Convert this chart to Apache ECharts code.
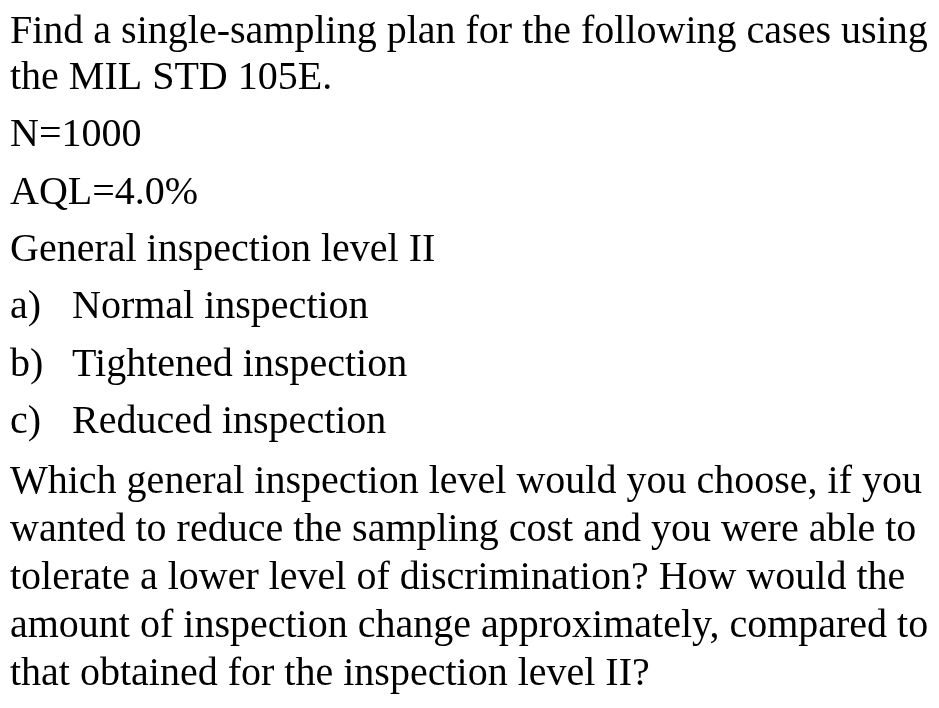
<!DOCTYPE html>
<html><head><meta charset="utf-8">
<script src="https://cdn.jsdelivr.net/npm/echarts@6/dist/echarts.min.js"></script>
<style>html,body{margin:0;padding:0;background:#fff}#c{width:939px;height:708px}</style>
</head><body><div id="c"></div>
<script>
const lines = [
  "Find a single-sampling plan for the following cases using",
  "the MIL STD 105E.",
  "N=1000",
  "AQL=4.0%",
  "General inspection level II",
  "", "", "",
  "Which general inspection level would you choose, if you",
  "wanted to reduce the sampling cost and you were able to",
  "tolerate a lower level of discrimination? How would the",
  "amount of inspection change approximately, compared to",
  "that obtained for the inspection level II?"
];
const itemLabels = ["a)", "b)", "c)"];
const itemTexts = ["Normal inspection", "Tightened inspection", "Reduced inspection"];
const lineY = [32, 78, 135, 193, 250, 307, 365, 422, 482, 530, 578, 626, 674];

const font = '40px "Liberation Serif", "Times New Roman", serif';
const els = [];
lines.forEach((t, i) => {
  if (!t) return;
  els.push({type:'text', left:10, top:lineY[i]-20, style:{text:t, font:font, fill:'#000'}});
});
itemLabels.forEach((l, k) => {
  const y = lineY[5+k]-20;
  els.push({type:'text', left:10, top:y, style:{text:l, font:font, fill:'#000'}});
  els.push({type:'text', left:72, top:y, style:{text:itemTexts[k], font:font, fill:'#000'}});
});
const chart = echarts.init(document.getElementById('c'));
chart.setOption({backgroundColor:'#fff', graphic: els});
</script></body></html>
